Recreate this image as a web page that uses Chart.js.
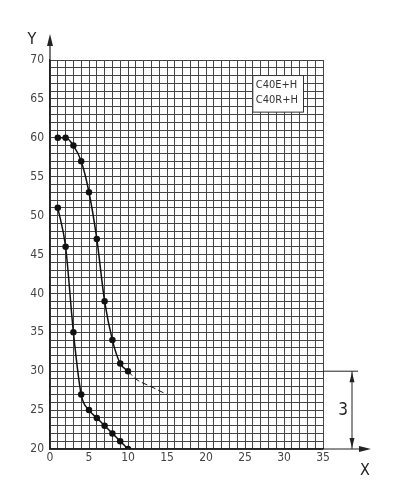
<!DOCTYPE html>
<html><head><script src="https://cdn.jsdelivr.net/npm/chart.js@4"></script>
<style>html,body{margin:0;padding:0;background:#fff}#w{width:400px;height:499px}</style></head>
<body><div id="w"><canvas id="c"></canvas></div>
<script>
const upperX=[1,2,3,4,5,6,7,8,9,10];
const upperY=[60,60,59,57,53,47,39,34,31,30];
const dashX=[10,11,13,15];
const dashY=[30,29,28,27];
const lowerX=[1,2,3,4,5,6,7,8,9,10];
const lowerY=[51,46,35,27,25,24,23,22,21,20];
const legendLines=["C40E+H","C40R+H"];
const xTicks=[0,5,10,15,20,25,30,35];
const yTicks=[20,25,30,35,40,45,50,55,60,65,70];
const pts=(xs,ys)=>xs.map((x,i)=>({x,y:ys[i]}));
const FONT='"DejaVu Sans Condensed","DejaVu Sans",sans-serif';
const deco={id:'deco',afterDraw(ch){
 const c=ch.ctx,a=ch.chartArea,xs=ch.scales.x,ys=ch.scales.y;
 c.save();c.strokeStyle='#222';c.fillStyle='#222';c.lineWidth=1.2;
 c.beginPath();c.moveTo(a.left,a.bottom);c.lineTo(a.left,a.top-22);c.stroke();
 c.beginPath();c.moveTo(a.left,a.top-26);c.lineTo(a.left-3,a.top-14);c.lineTo(a.left+3,a.top-14);c.fill();
 c.beginPath();c.moveTo(a.left,a.bottom);c.lineTo(a.right+44,a.bottom);c.stroke();
 c.beginPath();c.moveTo(a.right+48,a.bottom);c.lineTo(a.right+36,a.bottom-3);c.lineTo(a.right+36,a.bottom+3);c.fill();
 c.font='16px '+FONT;c.textAlign='center';c.textBaseline='middle';
 c.fillText('Y',a.left-18,a.top-20);c.fillText('X',a.right+42,a.bottom+22);
 const y30=ys.getPixelForValue(30);
 c.lineWidth=1;
 c.beginPath();c.moveTo(a.right,y30);c.lineTo(a.right+35,y30);c.stroke();
 const dx=a.right+29;
 c.beginPath();c.moveTo(dx,y30);c.lineTo(dx,a.bottom);c.stroke();
 c.beginPath();c.moveTo(dx,y30+1);c.lineTo(dx-2.5,y30+11);c.lineTo(dx+2.5,y30+11);c.fill();
 c.beginPath();c.moveTo(dx,a.bottom-1);c.lineTo(dx-2.5,a.bottom-11);c.lineTo(dx+2.5,a.bottom-11);c.fill();
 c.font='17px '+FONT;c.fillText('3',dx-9,(y30+a.bottom)/2);
 const bx=xs.getPixelForValue(26),by=ys.getPixelForValue(68),bw=xs.getPixelForValue(32.5)-bx,bh=ys.getPixelForValue(63.3)-by;
 c.fillStyle='#fff';c.fillRect(bx,by,bw,bh);c.strokeStyle='#333';c.strokeRect(bx,by,bw,bh);
 c.fillStyle='#333';c.font='11px '+FONT;c.textAlign='left';
 legendLines.forEach((t,i)=>c.fillText(t,bx+3,by+10+i*15));
 c.restore();}};
new Chart(document.getElementById('c'),{type:'scatter',
 data:{datasets:[
  {data:pts(upperX,upperY),showLine:true,tension:0.4,cubicInterpolationMode:'monotone',borderColor:'#111',backgroundColor:'#111',borderWidth:1.5,pointRadius:2.5,pointHoverRadius:2.5},
  {data:pts(dashX,dashY),showLine:true,tension:0.4,cubicInterpolationMode:'monotone',borderColor:'#111',borderWidth:1,borderDash:[6,3],pointRadius:0},
  {data:pts(lowerX,lowerY),showLine:true,tension:0.4,cubicInterpolationMode:'monotone',borderColor:'#111',backgroundColor:'#111',borderWidth:1.5,pointRadius:2.5,pointHoverRadius:2.5}
 ]},
 options:{responsive:true,maintainAspectRatio:false,animation:false,
  layout:{padding:{top:60,right:77,left:0,bottom:0}},
  plugins:{legend:{display:false},tooltip:{enabled:false}},
  scales:{
   x:{type:'linear',min:0,max:35,afterFit:s=>{s.height=50},
     afterBuildTicks:s=>{s.ticks=[];for(let i=0;i<=35;i++)s.ticks.push({value:i});},
     ticks:{autoSkip:false,maxRotation:0,color:'#444',font:{family:FONT,size:12},padding:2,callback:v=>xTicks.includes(v)?String(v):''},
     grid:{color:'#444',lineWidth:1,drawTicks:false},border:{color:'#222',width:1.2}},
   y:{type:'linear',min:20,max:70,afterFit:s=>{s.width=50},
     afterBuildTicks:s=>{s.ticks=[];for(let i=20;i<=70;i++)s.ticks.push({value:i});},
     ticks:{autoSkip:false,color:'#444',font:{family:FONT,size:12},padding:6,callback:v=>yTicks.includes(v)?String(v):''},
     grid:{color:'#444',lineWidth:1,drawTicks:false},border:{color:'#222',width:1.2}}
  }},
 plugins:[deco]});
</script></body></html>
